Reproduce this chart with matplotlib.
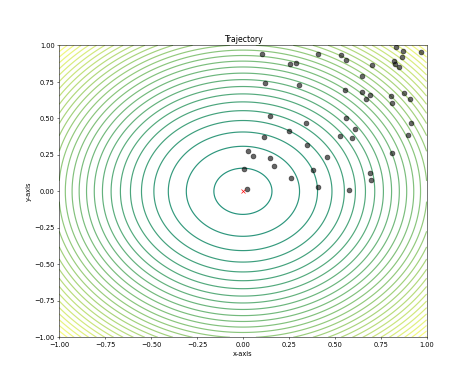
import numpy as np
import matplotlib
matplotlib.use("Agg")
import matplotlib.pyplot as plt

# Trajectory points
px = [0.105, 0.409, 0.536, 0.560, 0.259, 0.290, 0.705, 0.835, 0.871, 0.969,
      0.866, 0.821, 0.830, 0.848, 0.120, 0.308, 0.649, 0.554, 0.650, 0.694,
      0.668, 0.806, 0.810, 0.877, 0.908, 0.149, 0.346, 0.563, 0.612, 0.527,
      0.594, 0.252, 0.114, 0.913, 0.900, 0.348, 0.029, 0.053, 0.147, 0.168,
      0.458, 0.810, 0.005, 0.384, 0.261, 0.692, 0.696, 0.411, 0.578, 0.020]
py = [0.941, 0.941, 0.936, 0.896, 0.872, 0.879, 0.863, 0.988, 0.961, 0.954,
      0.920, 0.893, 0.875, 0.850, 0.745, 0.727, 0.791, 0.691, 0.679, 0.659,
      0.631, 0.650, 0.602, 0.672, 0.634, 0.515, 0.470, 0.500, 0.424, 0.381,
      0.363, 0.413, 0.372, 0.465, 0.386, 0.317, 0.279, 0.245, 0.226, 0.174,
      0.238, 0.265, 0.156, 0.147, 0.088, 0.128, 0.074, 0.031, 0.008, 0.019]
minimum = [0.0, 0.0]

level_start = 0.025
level_step = 0.07
level_stop = 2.0

x = np.linspace(-1, 1, 400)
y = np.linspace(-1, 1, 400)
X, Y = np.meshgrid(x, y)
Z = X**2 + Y**2
levels = np.arange(level_start, level_stop, level_step)

fig, ax = plt.subplots(figsize=(10, 8), dpi=47.4)
ax.contour(X, Y, Z, levels=levels, cmap='summer', linewidths=1.8, alpha=0.85)
ax.scatter(px, py, s=55, color='black', alpha=0.6, zorder=3)
ax.plot(minimum[0], minimum[1], 'x', color='red', markersize=7, zorder=4)
ax.set_xlim(-1, 1)
ax.set_ylim(-1, 1)
ax.set_title("Trajectory")
ax.set_xlabel("x-axis")
ax.set_ylabel("y-axis")
fig.savefig("out.png", dpi=47.4)
